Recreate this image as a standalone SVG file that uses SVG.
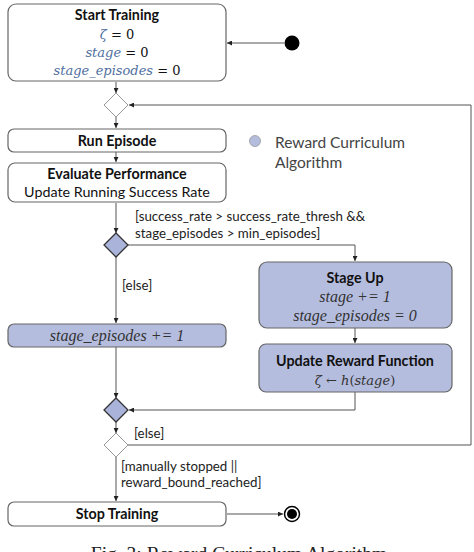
<svg xmlns="http://www.w3.org/2000/svg" width="474" height="552" viewBox="0 0 474 552">
<defs>
<marker id="ah" viewBox="0 0 8 8" refX="8" refY="4" markerWidth="5" markerHeight="5" orient="auto" markerUnits="userSpaceOnUse">
<path d="M0,0 L8,4 L0,8 z" fill="#222"/>
</marker>
<style>
.box{fill:#fff;stroke:#666;stroke-width:1.2}
.fbox{fill:#b5bddf;stroke:#666;stroke-width:1.2}
.dw{fill:#fff;stroke:#999;stroke-width:1}
.df{fill:#aab3d9;stroke:#333;stroke-width:1.3}
.t{font-family:Lato,"Liberation Sans",sans-serif;font-size:14.3px;fill:#111;text-anchor:middle}
.b{font-weight:bold}
.g{font-family:Lato,"Liberation Sans",sans-serif;font-size:13.3px;fill:#222}
.m{font-family:"Liberation Serif",serif;font-style:italic;font-size:16px;fill:#333;text-anchor:middle}
.mb{font-family:"DejaVu Serif",serif;font-style:italic;font-size:13px;fill:#4f6fa0}
.mz{font-family:"DejaVu Serif",serif;font-size:13px;fill:#111}
.c{fill:none;stroke:#555;stroke-width:1}
</style>
</defs>
<rect width="474" height="552" fill="#fff"/>

<g id="connectors">
<path class="c" d="M284,43 H227" marker-end="url(#ah)"/>
<path class="c" d="M116,82 V93" marker-end="url(#ah)"/>
<path class="c" d="M116,116 V128" marker-end="url(#ah)"/>
<path class="c" d="M116,152 V162" marker-end="url(#ah)"/>
<path class="c" d="M116,203 V233" marker-end="url(#ah)"/>
<path class="c" d="M128,245 H355 V261" marker-end="url(#ah)"/>
<path class="c" d="M116,257 V323" marker-end="url(#ah)"/>
<path class="c" d="M355,328 V343" marker-end="url(#ah)"/>
<path class="c" d="M116,347 V398" marker-end="url(#ah)"/>
<path class="c" d="M355,392 V410 H129" marker-end="url(#ah)"/>
<path class="c" d="M116,422 V433" marker-end="url(#ah)"/>
<path class="c" d="M128,445 H471 V105 H129" marker-end="url(#ah)"/>
<path class="c" d="M116,457 V501" marker-end="url(#ah)"/>
<path class="c" d="M227,514 H283" marker-end="url(#ah)"/>
</g>

<g id="start">
<circle cx="292" cy="43" r="7.5" fill="#000"/>
</g>

<g id="start-training">
<rect class="box" x="8" y="4" width="218" height="77" rx="8"/>
<text class="t b" x="117" y="20">Start Training</text>
<text x="117" y="39" text-anchor="middle"><tspan class="mb">ζ</tspan><tspan class="mz"> = 0</tspan></text>
<text x="117" y="57" text-anchor="middle"><tspan class="mb">stage</tspan><tspan class="mz"> = 0</tspan></text>
<text x="117" y="75" text-anchor="middle"><tspan class="mb">stage_episodes</tspan><tspan class="mz"> = 0</tspan></text>
</g>

<g id="merge1"><path class="dw" d="M116,93 L128,105 L116,117 L104,105 z"/></g>

<g id="run-episode">
<rect class="box" x="8" y="129" width="218" height="23" rx="6"/>
<text class="t b" x="117" y="146">Run Episode</text>
</g>

<g id="legend">
<circle cx="255" cy="141" r="5.5" fill="#b5bddf" stroke="#999" stroke-width="0.8"/>
<text x="275" y="148" font-family="Lato,'Liberation Sans',sans-serif" font-size="15.5" fill="#444">Reward Curriculum</text>
<text x="275" y="168" font-family="Lato,'Liberation Sans',sans-serif" font-size="15.5" fill="#444">Algorithm</text>
</g>

<g id="evaluate">
<rect class="box" x="8" y="163" width="218" height="39" rx="7"/>
<text class="t b" x="117" y="179">Evaluate Performance</text>
<text class="t" x="117" y="197">Update Running Success Rate</text>
</g>

<g id="decision1">
<path class="df" d="M116,233 L128,245 L116,257 L104,245 z"/>
<text class="g" x="135" y="221">[success_rate &gt; success_rate_thresh &amp;&amp;</text>
<text class="g" x="135" y="238">stage_episodes &gt; min_episodes]</text>
<text class="g" x="122" y="290">[else]</text>
</g>

<g id="stage-up">
<rect class="fbox" x="259" y="262" width="193" height="66" rx="8"/>
<text class="t b" x="355" y="283">Stage Up</text>
<text class="m" x="355" y="302">stage += 1</text>
<text class="m" x="355" y="321">stage_episodes = 0</text>
</g>

<g id="update-reward">
<rect class="fbox" x="259" y="344" width="193" height="48" rx="7"/>
<text class="t b" x="355" y="366">Update Reward Function</text>
<text x="355" y="385" text-anchor="middle"><tspan class="mb" style="fill:#333">ζ</tspan><tspan class="mz" style="fill:#333"> ← </tspan><tspan class="mb" style="fill:#333">h</tspan><tspan class="mz" style="fill:#333">(</tspan><tspan class="mb" style="fill:#333">stage</tspan><tspan class="mz" style="fill:#333">)</tspan></text>
</g>

<g id="stage-episodes-inc">
<rect class="fbox" x="8" y="324" width="218" height="23" rx="6"/>
<text class="m" x="117" y="341">stage_episodes += 1</text>
</g>

<g id="merge2"><path class="df" d="M116,398 L128,410 L116,422 L104,410 z"/></g>

<g id="decision2">
<path class="dw" d="M116,433 L128,445 L116,457 L104,445 z"/>
<text class="g" x="134" y="438">[else]</text>
<text class="g" x="121" y="471">[manually stopped  ||</text>
<text class="g" x="121" y="487">reward_bound_reached]</text>
</g>

<g id="stop-training">
<rect class="box" x="8" y="502" width="218" height="24" rx="6"/>
<text class="t b" x="117" y="519">Stop Training</text>
</g>

<g id="end">
<circle cx="292" cy="514" r="7.5" fill="#fff" stroke="#000" stroke-width="1.5"/>
<circle cx="292" cy="514" r="5" fill="#000"/>
</g>

<text x="239" y="560" text-anchor="middle" font-family="'Liberation Serif',serif" font-size="19.5" fill="#222">Fig. 3: Reward Curriculum Algorithm</text>
</svg>
